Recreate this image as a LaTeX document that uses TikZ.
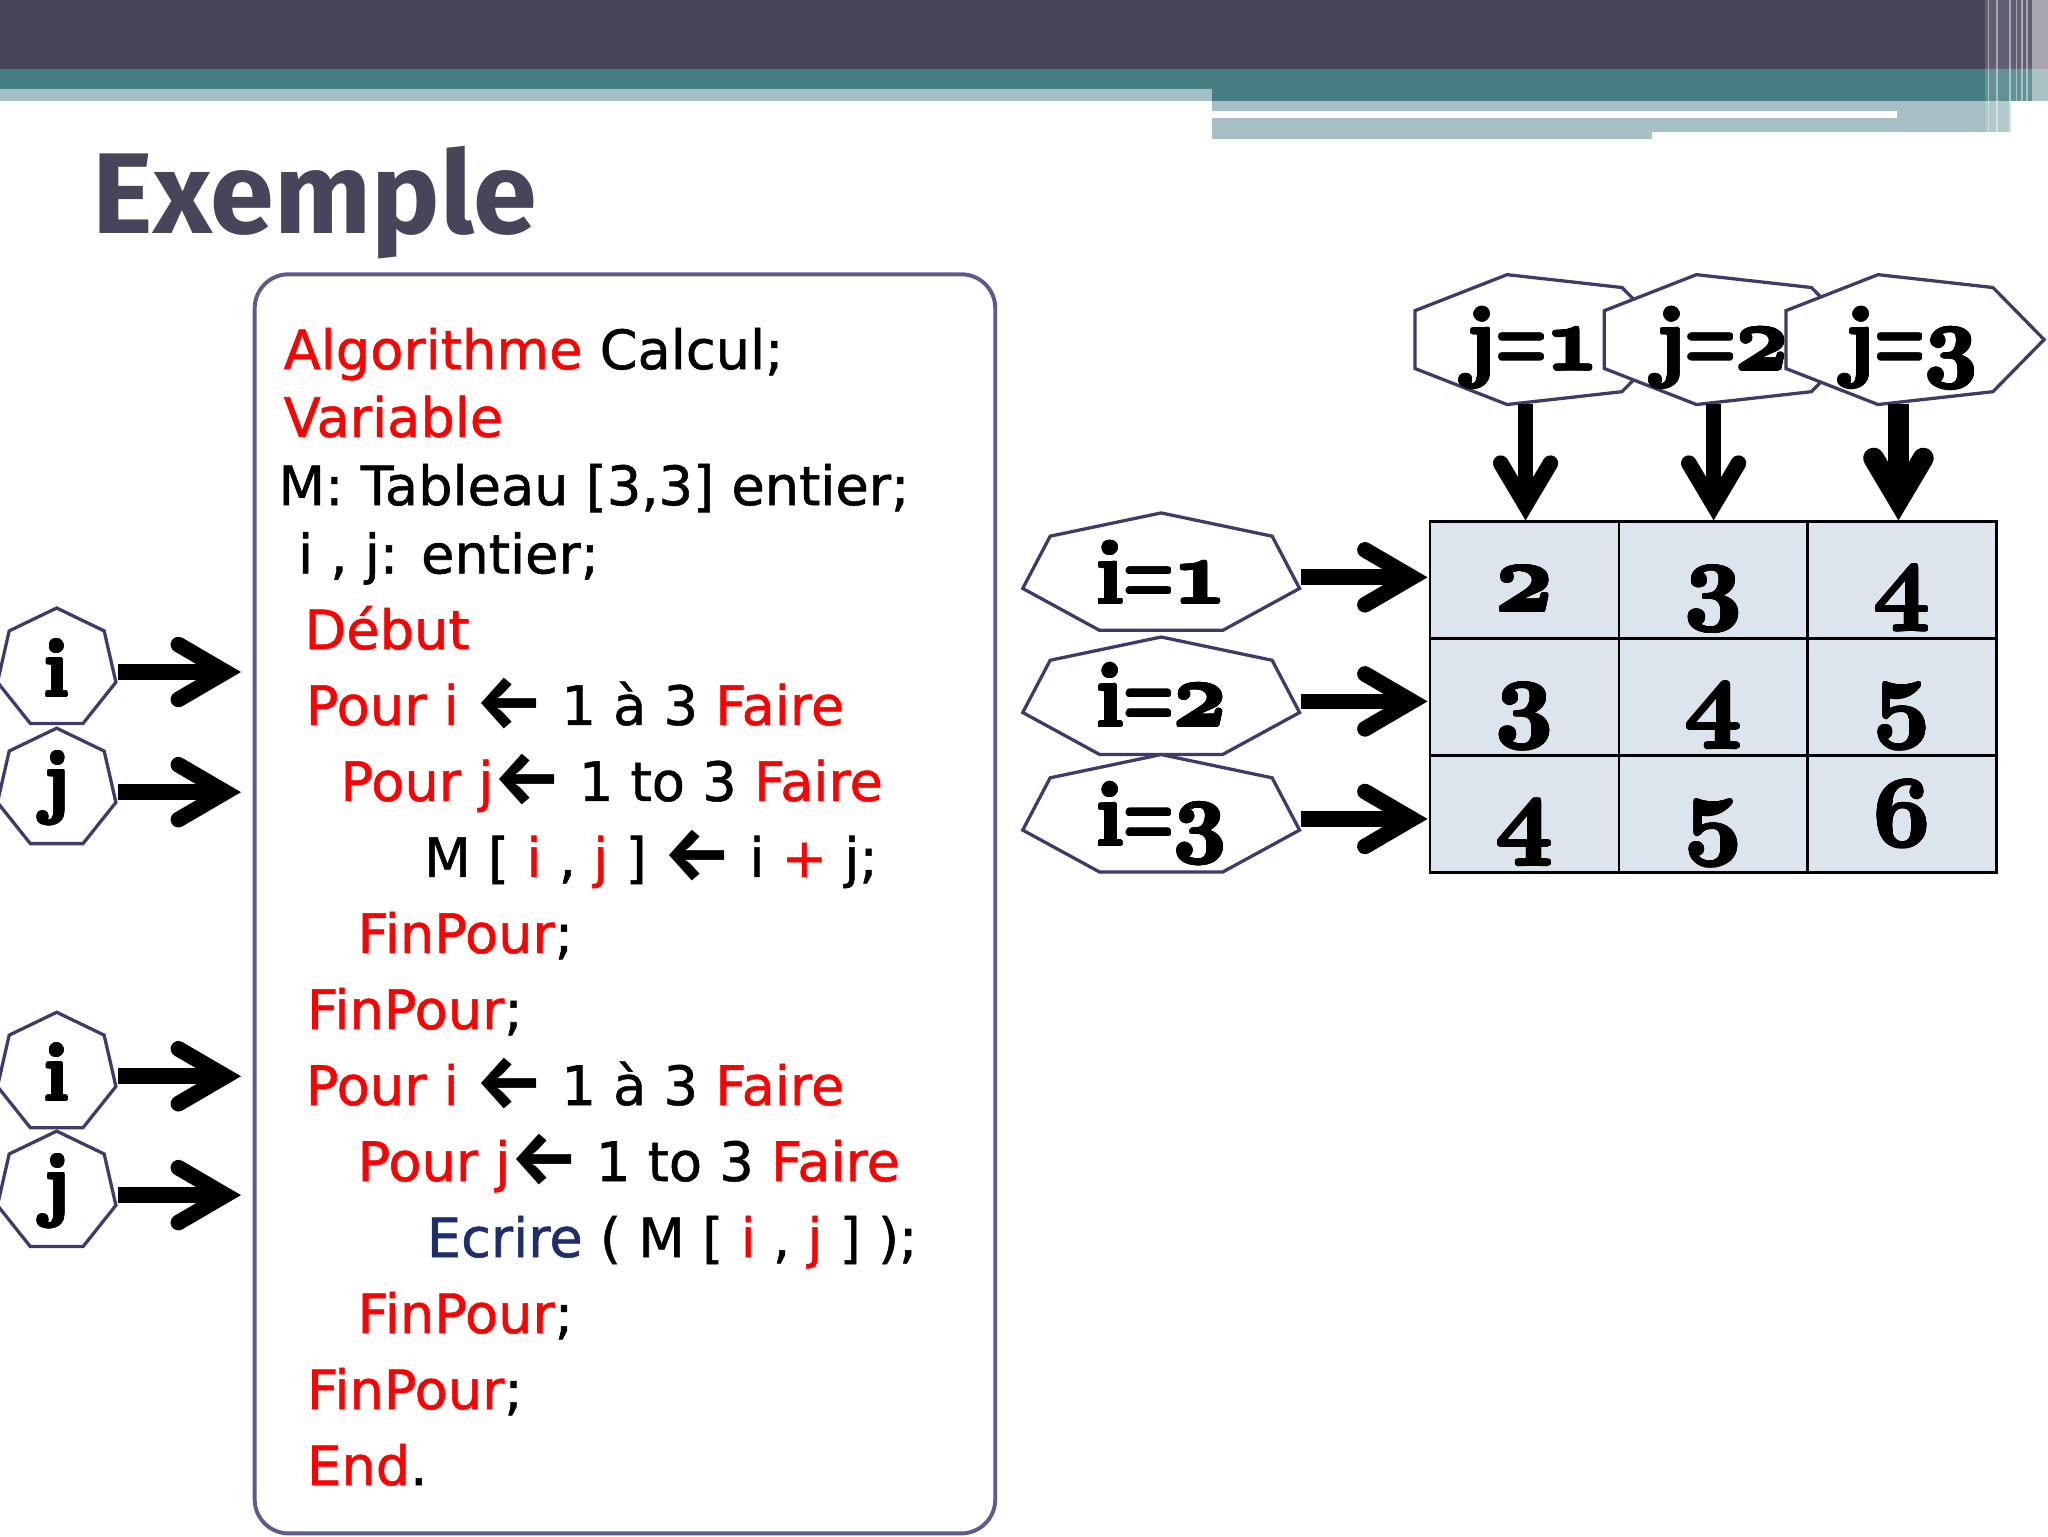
\documentclass[tikz,border=0pt]{standalone}
\usepackage{fix-cm}
\usepackage{fontspec}
\usepackage{graphicx}
\usepackage{contour}
\contourlength{1.1pt}
\usetikzlibrary{arrows.meta,shapes.geometric}
\newfontfamily\codefont[FakeBold=1]{DejaVu Sans}
\newfontfamily\arrfont{Fira Sans}
\newfontfamily\titlefont{Fira Sans}
\newcommand\osn[1]{{\fontencoding{OML}\fontfamily{cmm}\fontseries{b}\fontshape{it}\selectfont #1}}
\newcommand\eqs{\scalebox{0.62}[1]{=}}
\newcommand\kw[1]{\textcolor{codered}{#1}}
\newcommand\larr{\raisebox{-0.06em}{\scalebox{1.4}{\arrfont\bfseries ←}}}
\newcommand\heavy[1]{\contour{black}{#1}}
\definecolor{darkbar}{HTML}{46455A}
\definecolor{tealbar}{HTML}{477E84}
\definecolor{lightbar}{HTML}{A6BFC4}
\definecolor{titlecol}{HTML}{46455A}
\definecolor{boxline}{HTML}{5D5B8D}
\definecolor{heptline}{HTML}{3E3B6B}
\definecolor{gridfill}{HTML}{DCE5EE}
\definecolor{codered}{HTML}{FF0000}
\definecolor{codenavy}{HTML}{1E2D6B}
\newcommand\hept[5]{\filldraw[hepto] plot[samples at={0,1,2,3,4,5,6}, variable=\k] ({#1+#3*cos(#5+\k*360/7)},{#2+#4*sin(#5+\k*360/7)}) -- cycle;}
\tikzset{
  hepto/.style={draw=heptline, fill=white, line width=2.5pt, line join=miter},
  heptnode/.style={regular polygon, regular polygon sides=7, minimum size=93pt, inner sep=0pt,
     draw=heptline, fill=white, line width=2.5pt, font=\bfseries\fontsize{63}{65}\selectfont},
  lbl/.style={inner sep=0pt, anchor=base, font=\bfseries\fontsize{70}{72}\selectfont},
  codeline/.style={inner sep=0pt, anchor=base west, font=\codefont\fontsize{41.5}{50}\selectfont},
  codebox/.style={draw=boxline, line width=3pt, fill=white, rounded corners=26pt,
     minimum width=567pt, minimum height=964pt, inner sep=0pt},
  cell/.style={draw=black, line width=2pt, fill=gridfill, minimum width=144.5pt, minimum height=89.6pt,
     inner sep=0pt, text height=63pt, text depth=15pt, font=\fontsize{76}{80}\selectfont},
  fat/.style={line width=12pt, -{Straight Barb[length=36pt,width=42pt,line cap=round,line join=miter]}},
  fatv/.style={line width=12pt, -{Straight Barb[length=32pt,width=38pt,line cap=round,line join=miter]}},
  fatvb/.style={line width=16pt, -{Straight Barb[length=32pt,width=38pt,line cap=round,line join=miter]}},
}
\begin{document}
\begin{tikzpicture}[x=1pt,y=-1pt]
\useasboundingbox (0,0) rectangle (1568,1176);
\fill[white] (0,0) rectangle (1568,1176);
% top bars
\fill[darkbar] (0,0) rectangle (1568,52.8);
\fill[tealbar] (0,52.8) rectangle (1568,77.3);
\fill[lightbar] (0,68.4) rectangle (928,77.3);
\fill[lightbar] (928,77.3) rectangle (1540,106.7);
\fill[white] (928,85) rectangle (1452,90);
\fill[white] (1265,101) rectangle (1540,106.7);
\fill[white, opacity=0.15] (1520,0) rectangle (1568,106.7);
\foreach \xx in {1522.5,1529,1539,1544,1548,1552}
  \draw[white, opacity=0.45, line width=1pt] (\xx,0) -- (\xx,106.7);
\fill[white, opacity=0.45] (1556,0) rectangle (1568,106.7);
% title
\node[inner sep=0pt, anchor=base west, text=titlecol, font=\titlefont\bfseries\fontsize{88}{100}\selectfont] (title) at (71,178.6) {Exemple};
% code box
\node[codebox] (box) at (478.5,692) {};
\node[codeline] (l1) at (217,282.6) {\kw{Algorithme} Calcul;};
\node[codeline] (l2) at (217,334.4) {\kw{Variable}};
\node[codeline] (l3) at (213,386.7) {M: Tableau [3,3] entier;};
\node[codeline] (l4) at (228,439) {i , j: entier;};
\node[codeline] (l5) at (233,497) {\kw{Début}};
\node[codeline] (l6) at (234,555) {\kw{Pour i} \larr{} 1 à 3 \kw{Faire}};
\node[codeline] (l7) at (260.5,613.2) {\kw{Pour j}\larr{} 1 to 3 \kw{Faire}};
\node[codeline] (l8) at (324.5,671.4) {M [ \kw{i} , \kw{j} ] \larr{} i \kw{+} j;};
\node[codeline] (l9) at (273.6,729.6) {\kw{FinPour};};
\node[codeline] (l10) at (235,787.8) {\kw{FinPour};};
\node[codeline] (l11) at (234,846) {\kw{Pour i} \larr{} 1 à 3 \kw{Faire}};
\node[codeline] (l12) at (273.6,904.2) {\kw{Pour j}\larr{} 1 to 3 \kw{Faire}};
\node[codeline] (l13) at (326.6,962.4) {\textcolor{codenavy}{Ecrire} ( M [ \kw{i} , \kw{j} ] );};
\node[codeline] (l14) at (273.6,1020.6) {\kw{FinPour};};
\node[codeline] (l15) at (235,1078.8) {\kw{FinPour};};
\node[codeline] (l16) at (235,1137) {\kw{End}.};
% left heptagons and arrows
\node[heptnode] (hi1) at (43.4,512) {\heavy{i}};
\node[heptnode] (hj1) at (43.4,604) {\heavy{j}};
\node[heptnode] (hi2) at (43.4,821.5) {\heavy{i}};
\node[heptnode] (hj2) at (43.4,912.5) {\heavy{j}};
\foreach \h in {hi1,hj1,hi2,hj2}
  \draw[fat, shorten <=3pt, shorten >=9pt] ([yshift=-2.5pt]\h.east) -- ([yshift=-2.5pt]\h.east -| box.west);
% grid
\node[cell] (c11) at (1167.2,444.2) {\heavy{\osn{2}}};
\node[cell] (c12) at (1311.7,444.2) {\heavy{\osn{3}}};
\node[cell] (c13) at (1456.2,444.2) {\heavy{\osn{4}}};
\node[cell] (c21) at (1167.2,533.8) {\heavy{\osn{3}}};
\node[cell] (c22) at (1311.7,533.8) {\heavy{\osn{4}}};
\node[cell] (c23) at (1456.2,533.8) {\heavy{\osn{5}}};
\node[cell] (c31) at (1167.2,623.4) {\heavy{\osn{4}}};
\node[cell] (c32) at (1311.7,623.4) {\heavy{\osn{5}}};
\node[cell] (c33) at (1456.2,623.4) {\heavy{\osn{6}}};
% row heptagons
\hept{889}{440}{108.7}{47.3}{-90}
\node[lbl] (li1) at (889,462) {\heavy{i\eqs\osn{1}}};
\hept{889}{535}{108.7}{47.3}{-90}
\node[lbl] (li2) at (889,556) {\heavy{i\eqs\osn{2}}};
\hept{889}{625}{108.7}{47.3}{-90}
\node[lbl] (li3) at (889,647) {\heavy{i\eqs\osn{3}}};
\coordinate (ai1) at (996,442);
\coordinate (ai2) at (996,537);
\coordinate (ai3) at (996,627);
\foreach \a in {ai1,ai2,ai3}
  \draw[fat, shorten >=1pt] (\a) -- (\a -| c11.west);
% column heptagons
\hept{1177}{260}{104}{51}{0}
\node[lbl] (lj1) at (1173,283) {\heavy{j\eqs\osn{1}}};
\hept{1322}{260}{104}{51}{0}
\node[lbl] (lj2) at (1318,283) {\heavy{j\eqs\osn{2}}};
\hept{1461}{260}{104}{51}{0}
\node[lbl] (lj3) at (1463,283) {\heavy{j\eqs\osn{3}}};
\coordinate (aj1) at (1168,309);
\coordinate (aj2) at (1312,309);
\coordinate (aj3) at (1453.5,309);
\draw[fatv] (aj1) -- (aj1 |- c11.north);
\draw[fatv] (aj2) -- (aj2 |- c12.north);
\draw[fatvb] (aj3) -- (aj3 |- c13.north);
\end{tikzpicture}
\end{document}
